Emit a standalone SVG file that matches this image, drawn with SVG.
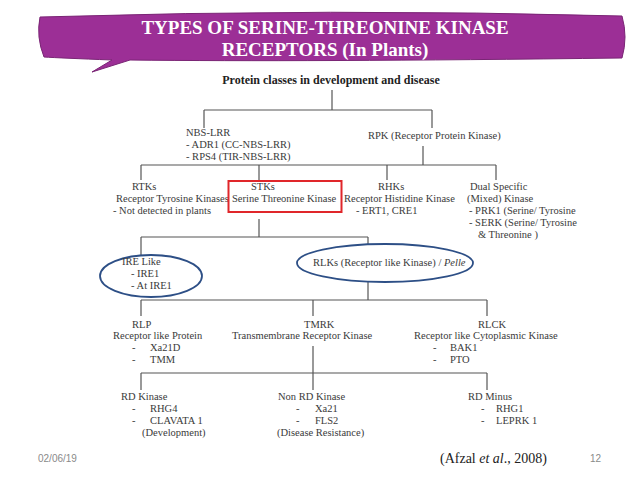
<svg xmlns="http://www.w3.org/2000/svg" width="638" height="478" viewBox="0 0 638 478">
<style>
text{font-family:'Liberation Serif','Times New Roman','DejaVu Serif',serif;font-size:10.5px;fill:#3a3a3a}
.c line{stroke:#555;stroke-width:1.2}
.t{font-weight:bold;fill:#fff;font-size:19px;text-anchor:middle}
.f{font-family:'Liberation Sans',sans-serif;fill:#8a8a8a;font-size:10px}
</style>
<rect width="638" height="478" fill="#fff"/>
<g id="banner">
<path d="M40,17 Q330,8 622,16 Q628,37 622,58 Q300,62 130,60 L92,72 L112,60 Q60,58 44,57 Q36,37 40,17 Z" fill="#9c2f96" stroke="#7a2575" stroke-width="1"/>
<text class="t" x="325" y="34">TYPES OF SERINE-THREONINE KINASE</text>
<text class="t" x="325" y="56">RECEPTORS (In Plants)</text>
</g>
<g class="c" id="connectors">
<line x1="332" y1="90" x2="332" y2="110"/><line x1="204" y1="110" x2="432" y2="110"/>
<line x1="204" y1="110" x2="204" y2="128"/><line x1="432" y1="110" x2="432" y2="128"/>
<line x1="423" y1="146" x2="423" y2="165"/><line x1="141" y1="165" x2="496" y2="165"/>
<line x1="141" y1="165" x2="141" y2="180"/><line x1="259" y1="165" x2="259" y2="181"/>
<line x1="387" y1="165" x2="387" y2="180"/><line x1="496" y1="165" x2="496" y2="180"/>
<line x1="259" y1="219" x2="259" y2="237"/><line x1="141" y1="237" x2="368" y2="237"/>
<line x1="141" y1="237" x2="141" y2="256"/><line x1="368" y1="237" x2="368" y2="244"/>
<line x1="368" y1="282" x2="368" y2="300"/><line x1="141" y1="300" x2="487" y2="300"/>
<line x1="141" y1="300" x2="141" y2="316"/><line x1="313" y1="300" x2="313" y2="316"/><line x1="487" y1="300" x2="487" y2="316"/>
<line x1="313" y1="346" x2="313" y2="373"/><line x1="141" y1="373" x2="487" y2="373"/>
<line x1="141" y1="373" x2="141" y2="390"/><line x1="313" y1="373" x2="313" y2="390"/><line x1="487" y1="373" x2="487" y2="390"/>
</g>
<text x="331" y="84" text-anchor="middle" style="font-weight:bold;font-size:12px;fill:#222">Protein classes in development and disease</text>
<g id="nbs"><text x="186" y="136">NBS-LRR</text><text x="186" y="148">-  ADR1 (CC-NBS-LRR)</text><text x="186" y="160">-  RPS4 (TIR-NBS-LRR)</text></g>
<g id="rpk"><text x="368" y="139">RPK (Receptor Protein Kinase)</text></g>
<g id="rtks"><text x="132" y="190">RTKs</text><text x="116" y="202">Receptor Tyrosine Kinases</text><text x="113" y="214">- Not detected in plants</text></g>
<g id="stks"><rect x="228.5" y="181" width="113" height="31" fill="none" stroke="#e0262a" stroke-width="2"/><text x="251" y="190">STKs</text><text x="232" y="202">Serine Threonine Kinase</text></g>
<g id="rhks"><text x="378" y="190">RHKs</text><text x="344" y="202">Receptor Histidine Kinase</text><text x="356" y="214">- ERT1, CRE1</text></g>
<g id="dual"><text x="470" y="190">Dual Specific</text><text x="467" y="202">(Mixed) Kinase</text><text x="469" y="214">-  PRK1 (Serine/ Tyrosine</text><text x="469" y="226">-   SERK (Serine/ Tyrosine</text><text x="478" y="238">&amp; Threonine )</text></g>
<g id="ire"><ellipse cx="151" cy="276" rx="51" ry="21" fill="none" stroke="#2d4f86" stroke-width="1.8"/><text x="122" y="265">IRE Like</text><text x="131" y="277">-  IRE1</text><text x="131" y="289">-  At IRE1</text></g>
<g id="rlks"><ellipse cx="385" cy="263" rx="88" ry="19" fill="none" stroke="#2d4f86" stroke-width="1.8"/><text x="313" y="266">RLKs (Receptor like Kinase) / <tspan font-style="italic">Pelle</tspan></text></g>
<g id="rlp"><text x="132" y="328">RLP</text><text x="113" y="339">Receptor like Protein</text><text x="132" y="351">-</text><text x="150" y="351">Xa21D</text><text x="132" y="363">-</text><text x="150" y="363">TMM</text></g>
<g id="tmrk"><text x="304" y="328">TMRK</text><text x="232" y="339">Transmembrane Receptor Kinase</text></g>
<g id="rlck"><text x="478" y="328">RLCK</text><text x="414" y="339">Receptor like Cytoplasmic Kinase</text><text x="433" y="351">-</text><text x="450" y="351">BAK1</text><text x="433" y="363">-</text><text x="450" y="363">PTO</text></g>
<g id="rd"><text x="121" y="400">RD Kinase</text><text x="132" y="412">-</text><text x="150" y="412">RHG4</text><text x="132" y="424">-</text><text x="150" y="424">CLAVATA 1</text><text x="142" y="436">(Development)</text></g>
<g id="nonrd"><text x="278" y="400">Non RD Kinase</text><text x="296" y="412">-</text><text x="315" y="412">Xa21</text><text x="296" y="424">-</text><text x="315" y="424">FLS2</text><text x="277" y="436">(Disease Resistance)</text></g>
<g id="rdminus"><text x="468" y="400">RD Minus</text><text x="481" y="412">-</text><text x="496" y="412">RHG1</text><text x="481" y="424">-</text><text x="496" y="424">LEPRK 1</text></g>
<text class="f" x="38" y="462">02/06/19</text>
<text class="f" x="590" y="462">12</text>
<text x="440" y="463" style="font-size:14px;fill:#222">(Afzal <tspan font-style="italic">et al</tspan>., 2008)</text>
</svg>
